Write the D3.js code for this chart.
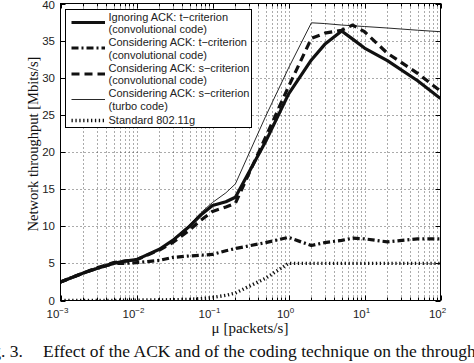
<!DOCTYPE html>
<html>
<head>
<meta charset="utf-8">
<script src="https://cdn.jsdelivr.net/npm/d3@7"></script>
<style>
  html, body { margin: 0; padding: 0; background: #fff; }
  svg { display: block; }
</style>
</head>
<body>
<svg id="chart" width="474" height="363"></svg>
<script>
// ---- data ----
const mu = [0.001, 0.002, 0.003, 0.005, 0.007, 0.01, 0.02, 0.03, 0.05, 0.07, 0.1, 0.15, 0.2, 0.5, 1, 2, 3, 5, 7, 10, 20, 50, 100];
const ignoringT   = [2.5, 3.7, 4.3, 5.0, 5.3, 5.5, 6.9, 8.1, 10.0, 11.5, 12.8, 13.3, 13.9, 21.4, 27.8, 32.4, 34.5, 36.3, 35.2, 34.0, 32.3, 29.6, 27.2];
const consideringT = [2.5, 3.7, 4.3, 5.0, 5.0, 5.1, 5.4, 5.8, 6.0, 6.1, 6.2, 6.7, 7.0, 7.8, 8.5, 7.4, 7.8, 8.1, 8.4, 8.3, 7.9, 8.3, 8.3];
const consideringS = [2.5, 3.7, 4.4, 5.1, 5.3, 5.5, 6.8, 7.8, 9.5, 10.8, 12.0, 12.6, 13.1, 22.0, 28.8, 35.3, 36.0, 36.4, 37.1, 36.2, 33.3, 30.6, 28.2];
const turboS      = [2.5, 3.7, 4.3, 5.0, 5.3, 5.5, 6.9, 8.2, 10.2, 11.8, 13.2, 14.5, 15.7, 24.8, 31.3, 37.4, 37.3, 37.1, 37.0, 36.9, 36.7, 36.4, 36.2];
const standard    = [0.0, 0.0, 0.0, 0.02, 0.03, 0.05, 0.08, 0.1, 0.15, 0.25, 0.4, 0.7, 1.0, 3.0, 5.0, 5.0, 5.0, 5.0, 5.0, 5.0, 5.0, 5.0, 5.0];

const seriesNames = [
  ["Ignoring ACK: t\u2212criterion", "(convolutional code)"],
  ["Considering ACK: t\u2212criterion", "(convolutional code)"],
  ["Considering ACK: s\u2212criterion", "(convolutional code)"],
  ["Considering ACK: s\u2212criterion", "(turbo code)"],
  ["Standard 802.11g"]
];
const yTicks = [0, 5, 10, 15, 20, 25, 30, 35, 40];
const xTickExponents = [-3, -2, -1, 0, 1, 2];
const yLabel = "Network throughput  [Mbits/s]";
const xLabel = "\u03bc  [packets/s]";
const captionNum = "Fig. 3.";
const captionText = "Effect of the ACK and of the coding technique on the throughput";

// ---- layout ----
const svg = d3.select("#chart");
const L = 60.5, R = 440.5, T = 3.5, B = 300.5;
const x = d3.scaleLog().domain([1e-3, 1e2]).range([L, R]);
const y = d3.scaleLinear().domain([0, 40]).range([B, T]);

const styles = [
  { w: 3.2, dash: null },
  { w: 3.2, dash: "7,3,2,3" },
  { w: 3.2, dash: "8,5" },
  { w: 0.9, dash: null },
  { w: 3.4, dash: "1.3,2.6" }
];
const allSeries = [ignoringT, consideringT, consideringS, turboS, standard];

// grid
const g = svg.append("g");
const xGrid = x.ticks();
g.selectAll("line.vg").data(xGrid.filter(v => v > 1e-3 && v < 1e2)).enter().append("line")
  .attr("x1", d => Math.round(x(d)) + 0.5).attr("x2", d => Math.round(x(d)) + 0.5)
  .attr("y1", T).attr("y2", B)
  .attr("stroke", "#444").attr("stroke-width", 0.9).attr("stroke-dasharray", "1,3");
g.selectAll("line.hg").data(yTicks.filter(v => v > 0 && v < 40)).enter().append("line")
  .attr("x1", L).attr("x2", R)
  .attr("y1", d => Math.round(y(d)) + 0.5).attr("y2", d => Math.round(y(d)) + 0.5)
  .attr("stroke", "#444").attr("stroke-width", 0.9).attr("stroke-dasharray", "1,3");

// ticks
const tk = svg.append("g").attr("stroke", "#000").attr("stroke-width", 1);
xGrid.forEach(v => {
  const isMajor = Math.abs(Math.log10(v) - Math.round(Math.log10(v))) < 1e-9;
  const len = isMajor ? 5 : 3;
  const xx = Math.round(x(v)) + 0.5;
  tk.append("line").attr("x1", xx).attr("x2", xx).attr("y1", B).attr("y2", B - len);
  tk.append("line").attr("x1", xx).attr("x2", xx).attr("y1", T).attr("y2", T + len);
});
yTicks.forEach(v => {
  const yy = Math.round(y(v)) + 0.5;
  tk.append("line").attr("x1", L).attr("x2", L + 5).attr("y1", yy).attr("y2", yy);
  tk.append("line").attr("x1", R).attr("x2", R - 5).attr("y1", yy).attr("y2", yy);
});

// series
svg.append("clipPath").attr("id", "clip").append("rect")
  .attr("x", L).attr("y", T - 2).attr("width", R - L).attr("height", B - T + 2);
const line = d3.line().x((d, i) => x(mu[i])).y(d => y(d));
allSeries.forEach((s, i) => {
  svg.append("path").datum(s)
    .attr("d", line)
    .attr("fill", "none").attr("stroke", "#111")
    .attr("stroke-width", styles[i].w)
    .attr("stroke-dasharray", styles[i].dash)
    .attr("stroke-linejoin", "round")
    .attr("clip-path", "url(#clip)");
});

// box
svg.append("rect").attr("x", L).attr("y", T).attr("width", R - L).attr("height", B - T)
  .attr("fill", "none").attr("stroke", "#000").attr("stroke-width", 1);

// y tick labels
svg.append("g").selectAll("text").data(yTicks).enter().append("text")
  .attr("x", 55).attr("y", d => Math.max(y(d) + 4, 9))
  .attr("text-anchor", "end")
  .attr("font-family", "Liberation Sans, Arial, sans-serif").attr("font-size", 11.5)
  .attr("fill", "#222").text(d => d);

// x tick labels
const xl = svg.append("g").attr("font-family", "Liberation Sans, Arial, sans-serif").attr("fill", "#222");
xTickExponents.forEach(e => {
  const t = xl.append("text").attr("x", x(Math.pow(10, e)) - 3).attr("y", 318)
    .attr("text-anchor", "middle").attr("font-size", 11.5);
  t.append("tspan").text("10");
  t.append("tspan").attr("dy", -5).attr("font-size", 8).text(e < 0 ? "\u2212" + (-e) : String(e));
});

// axis labels
svg.append("text").attr("transform", "translate(38,144) rotate(-90)")
  .attr("text-anchor", "middle").attr("font-family", "Liberation Serif, Times New Roman, serif")
  .attr("font-size", 14.5).attr("fill", "#111").text(yLabel);
svg.append("text").attr("x", 250).attr("y", 333)
  .attr("text-anchor", "middle").attr("font-family", "Liberation Serif, Times New Roman, serif")
  .attr("font-size", 15).attr("fill", "#111").text(xLabel);

// caption
svg.append("text").attr("x", 23).attr("y", 357).attr("text-anchor", "end")
  .attr("font-family", "Liberation Serif, Times New Roman, serif")
  .attr("font-size", 17.5).attr("fill", "#111").text(captionNum);
svg.append("text").attr("x", 43).attr("y", 357)
  .attr("font-family", "Liberation Serif, Times New Roman, serif")
  .attr("font-size", 17.5).attr("fill", "#111").text(captionText);

// legend
const lg = svg.append("g");
lg.append("rect").attr("x", 65.5).attr("y", 9.5).attr("width", 186).attr("height", 118)
  .attr("fill", "#fff").attr("stroke", "#000").attr("stroke-width", 1);
const sampleY = [22.5, 48, 74, 99.5, 120.5];
const textY = [[20.5, 33], [46, 58.5], [71.5, 84], [97, 109.5], [123.5]];
seriesNames.forEach((names, i) => {
  lg.append("line").attr("x1", 71.5).attr("x2", 105).attr("y1", sampleY[i]).attr("y2", sampleY[i])
    .attr("stroke", "#111").attr("stroke-width", styles[i].w)
    .attr("stroke-dasharray", styles[i].dash);
  names.forEach((n, j) => {
    lg.append("text").attr("x", 108.5).attr("y", textY[i][j])
      .attr("font-family", "Liberation Sans, Arial, sans-serif").attr("font-size", 11)
      .attr("fill", "#222").text(n);
  });
});
</script>
</body>
</html>
